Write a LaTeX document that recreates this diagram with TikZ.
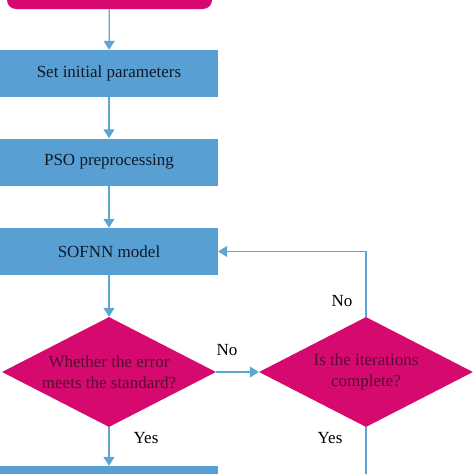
\documentclass[tikz,border=0pt]{standalone}
\usepackage{fontspec}
\setmainfont{Liberation Serif}
\usetikzlibrary{shapes.geometric,arrows.meta}
\definecolor{boxblue}{RGB}{88,160,211}
\definecolor{linkblue}{RGB}{92,166,212}
\definecolor{flowpink}{RGB}{214,10,110}
\definecolor{qtext}{RGB}{85,10,50}
\definecolor{btext}{RGB}{15,25,40}

\begin{document}
\begin{tikzpicture}[x = 1pt, y = -1pt, font = \fontsize{17}{21}\selectfont,
        block/.style = {minimum width = 218pt, minimum height = 47pt, fill = boxblue, text = btext, inner sep = 0pt},
        startbox/.style = {minimum width = 205pt, minimum height = 60pt, rounded corners = 9pt, fill = flowpink, inner sep = 0pt},
        decision/.style = {diamond, minimum width = 214pt, minimum height = 110pt, fill = flowpink, inner sep = 0pt},
        question/.style = {text = qtext, align = center},
        link/.style = {draw = linkblue, line width = 1.3pt, -{Triangle[length = 9pt, width = 11pt]}}]
    \clip (0, 0) rectangle (474, 474);
    % main column
    \node[startbox] (begin) at (109.5, -21) {};
    \node[block] (init) at (109, 73.5) {Set initial parameters};
    \node[block] (pso) at (109, 162) {PSO preprocessing};
    \node[block] (sofnn) at (109, 251.5) {SOFNN model};
    \node[decision] (err) at (109, 372) {};
    \node[question] (errtext) at (err.center) {Whether the error\\meets the standard?};
    \node[block] (output) at (109, 489.5) {};
    % iteration check
    \node[decision] (iter) at (366, 372) {};
    \node[question] (itertext) at (iter.center) {Is the iterations\\complete?};
    \coordinate (iterout) at (366, 490);
    % answers
    \node (errno) at (227, 350) {No};
    \node (erryes) at (146, 438) {Yes};
    \node (iterno) at (342, 301) {No};
    \node (iteryes) at (330, 438) {Yes};
    % connectors
    \draw[link] (begin) -- (init);
    \draw[link] (init) -- (pso);
    \draw[link] (pso) -- (sofnn);
    \draw[link] (sofnn) -- (err);
    \draw[link] (err) -- (output);
    \draw[link] (err) -- (iter);
    \draw[link] (iter.north) |- (sofnn.east);
    \draw[link, -] (iter.south) -- (iterout);
\end{tikzpicture}
\end{document}
